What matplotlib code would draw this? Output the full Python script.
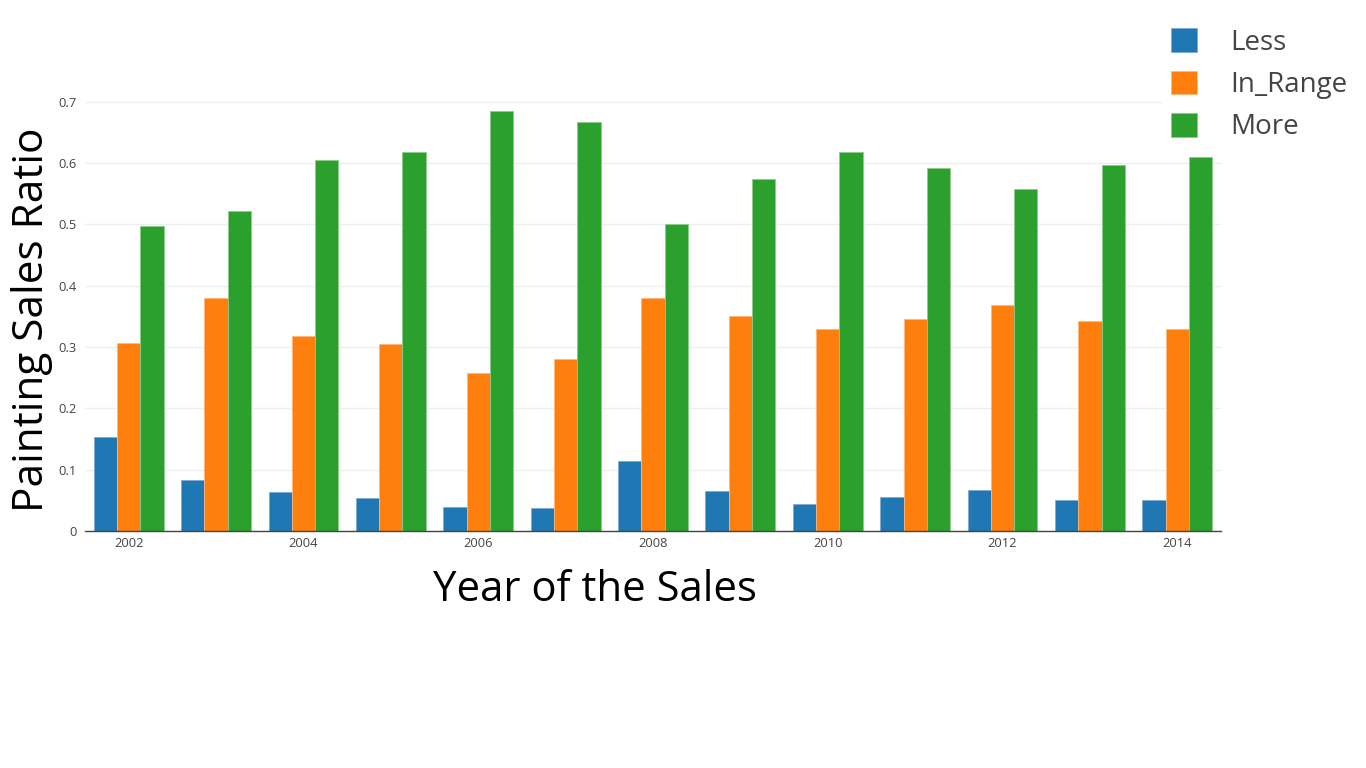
import matplotlib
matplotlib.use("Agg")
import matplotlib.pyplot as plt
import numpy as np
from matplotlib.patches import Patch

years = [2002, 2003, 2004, 2005, 2006, 2007, 2008, 2009, 2010, 2011, 2012, 2013, 2014]
less = [0.153, 0.083, 0.064, 0.054, 0.039, 0.038, 0.114, 0.065, 0.044, 0.055, 0.067, 0.051, 0.051]
in_range = [0.307, 0.380, 0.318, 0.305, 0.258, 0.281, 0.380, 0.351, 0.330, 0.346, 0.369, 0.343, 0.330]
more = [0.498, 0.522, 0.605, 0.618, 0.685, 0.667, 0.501, 0.574, 0.618, 0.592, 0.558, 0.597, 0.610]
series = [("Less", less, "#1f77b4", "#7fa9d2"),
          ("In_Range", in_range, "#ff7f0e", "#ffb77a"),
          ("More", more, "#2ca02c", "#8ccc8c")]
xticks = [2002, 2004, 2006, 2008, 2010, 2012, 2014]
yticks = [0, 0.1, 0.2, 0.3, 0.4, 0.5, 0.6, 0.7]

W, H = 1366, 768
fig = plt.figure(figsize=(W / 100, H / 100), dpi=100)
L, R, B, T = 85, 1221, 531, 89
ax = fig.add_axes([L / W, 1 - B / H, (R - L) / W, (B - T) / H])

x = np.array(years, dtype=float)
bw = 0.8 / 3
for i, (name, vals, col, ecol) in enumerate(series):
    ax.bar(x + (i - 1) * bw, vals, width=bw, color=col, edgecolor=ecol,
           linewidth=0.6, zorder=3, label=name)

ax.set_xlim(2001.5, 2014.5)
ax.set_ylim(0, 0.721)
ax.set_xticks(xticks)
ax.set_xticklabels([str(v) for v in xticks])
ax.set_yticks(yticks)
ax.set_yticklabels(["0", "0.1", "0.2", "0.3", "0.4", "0.5", "0.6", "0.7"])
ax.tick_params(axis="both", length=0, labelsize=9.3, labelcolor="#444444",
               labelfontfamily="Open Sans")
ax.tick_params(axis="y", pad=6)
ax.tick_params(axis="x", pad=4)
ax.grid(axis="y", color="#eeeeee", linewidth=1, zorder=0)
for s in ["top", "right", "left"]:
    ax.spines[s].set_visible(False)
ax.spines["bottom"].set_color("#444444")
ax.spines["bottom"].set_linewidth(1)
ax.spines["bottom"].set_zorder(4)

fig.text(32 / W, 1 - 320 / H, "Painting Sales Ratio", rotation=90, ha="center",
         va="center", fontsize=30.4, family="Open Sans", color="black")
fig.text(595 / W, 1 - 590 / H, "Year of the Sales", ha="center", va="center",
         fontsize=30.2, family="Open Sans", color="black")

handles = [Patch(facecolor=c, edgecolor=e, linewidth=0.6) for _, _, c, e in series]
labels = [n for n, _, _, _ in series]
leg = fig.legend(handles, labels, loc="upper left",
                 bbox_to_anchor=(1163 / W, 1 - 20 / H),
                 prop={"family": "Open Sans", "size": 20}, labelcolor="#444444",
                 frameon=True, facecolor="white", edgecolor="white", framealpha=1,
                 handlelength=0.94, handleheight=0.94, handletextpad=1.19,
                 labelspacing=0.5, borderpad=0.3, borderaxespad=0, fancybox=False)
leg.set_zorder(10)

fig.savefig("out.png", dpi=100, facecolor="white")
